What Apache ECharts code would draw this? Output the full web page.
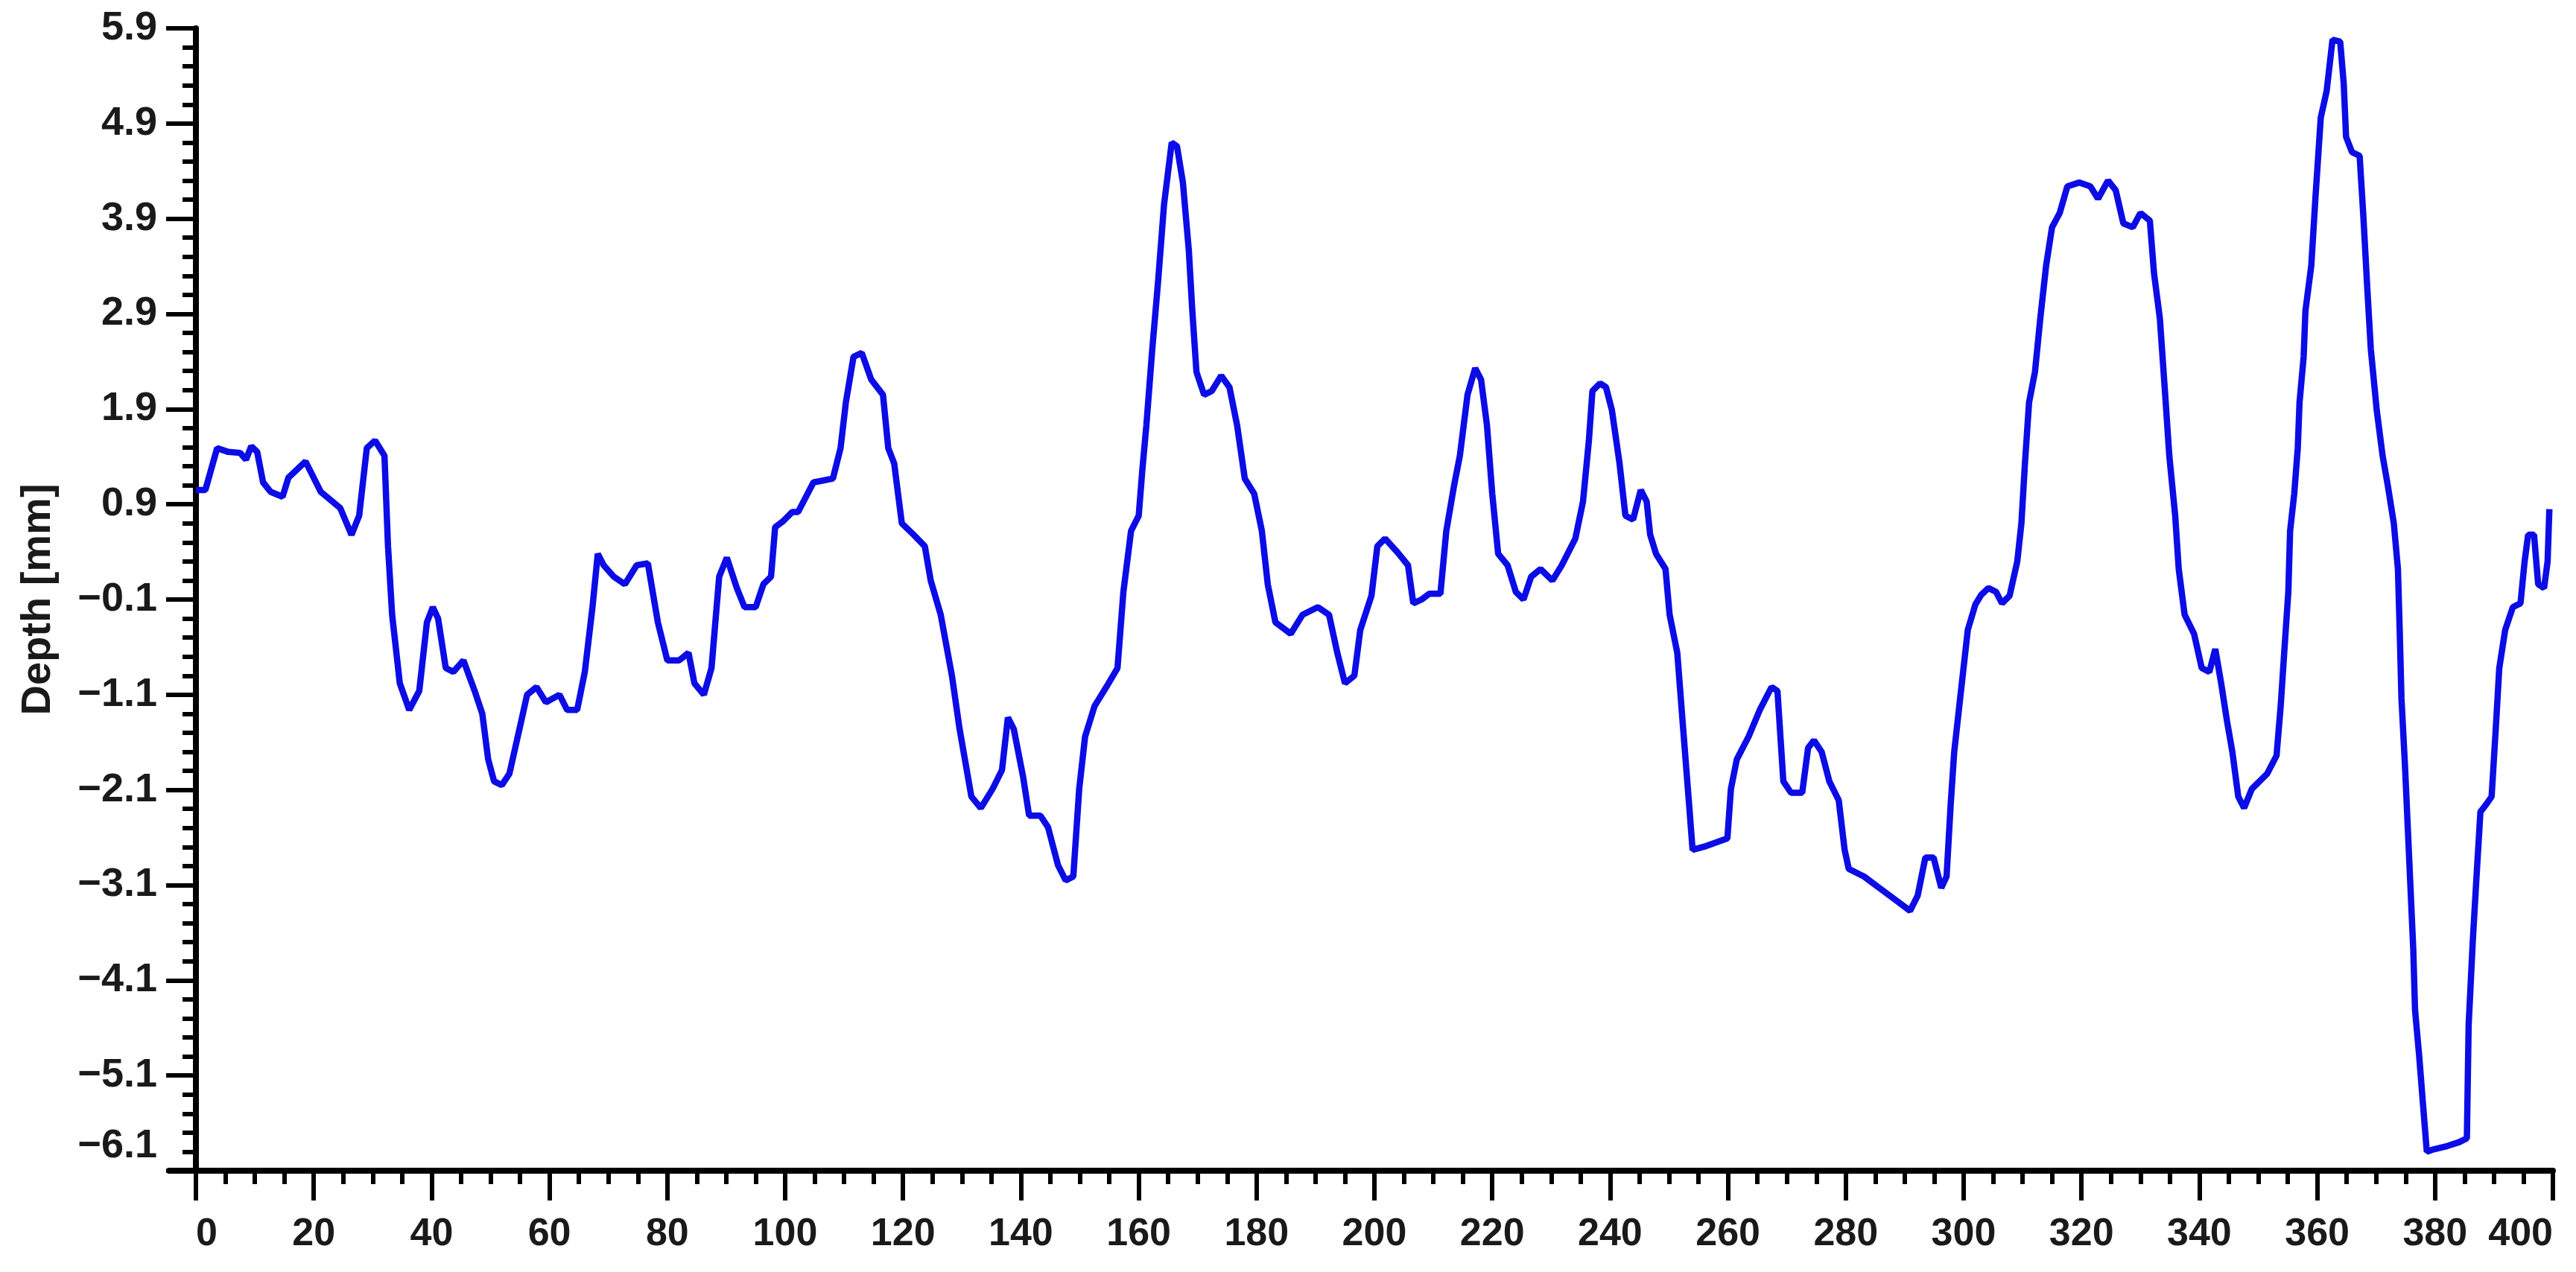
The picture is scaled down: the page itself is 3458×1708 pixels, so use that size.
<!DOCTYPE html>
<html><head><meta charset="utf-8">
<script src="https://cdn.jsdelivr.net/npm/echarts@6/dist/echarts.min.js"></script>
<style>html,body{margin:0;padding:0;background:#fff}#c{width:3458px;height:1708px}</style>
</head><body><div id="c"></div>
<script>
const xs = [
  0, 1.6, 3.6, 5.5, 7.5, 8.5, 9.4, 10.4, 11.4, 12.7, 14.7, 15.7, 18.6, 21.2, 24.5, 26.4, 27.7, 29.0, 30.4, 32.0,
  32.6, 33.3, 34.6, 36.2, 37.9, 39.2, 40.2, 41.1, 42.4, 43.7, 45.4, 47.3, 48.6, 49.6, 50.6, 51.9, 53.2, 55.2, 56.2, 57.8,
  59.4, 61.7, 63.0, 64.7, 66.0, 67.3, 68.2, 69.2, 70.9, 72.8, 74.8, 76.7, 78.4, 80.0, 82.0, 83.6, 84.6, 86.2, 87.5, 88.8,
  90.1, 91.8, 93.1, 95.0, 96.3, 97.6, 98.3, 99.6, 101.2, 102.2, 104.8, 108.1, 109.4, 110.3, 111.6, 113.0, 114.6, 116.6, 117.5, 118.5,
  119.8, 121.8, 123.7, 124.7, 126.4, 128.3, 129.6, 131.6, 133.2, 135.2, 136.8, 137.8, 138.8, 140.4, 141.4, 143.3, 144.6, 146.3, 147.6, 148.9,
  149.9, 150.9, 152.5, 154.5, 156.4, 157.4, 158.7, 160.0, 160.6, 161.3, 162.3, 163.3, 164.3, 165.6, 166.5, 167.5, 168.5, 169.1, 169.8, 171.1,
  172.4, 174.0, 175.4, 176.7, 178.0, 179.6, 180.9, 181.9, 183.2, 185.8, 187.8, 190.4, 192.3, 193.7, 195.0, 196.6, 197.6, 199.5, 200.5, 201.8,
  204.0, 205.7, 206.6, 208.0, 209.3, 211.2, 212.2, 213.5, 214.5, 215.8, 217.1, 218.1, 219.1, 220.0, 221.0, 222.6, 224.0, 225.3, 226.6, 228.2,
  230.2, 231.8, 234.1, 235.4, 236.4, 237.0, 238.3, 239.3, 240.3, 241.6, 242.6, 243.9, 245.2, 246.2, 246.8, 247.8, 249.4, 250.1, 251.4, 252.4,
  253.4, 254.0, 256.3, 259.9, 260.5, 261.5, 263.5, 265.4, 267.4, 268.4, 269.4, 270.7, 272.6, 273.6, 274.6, 275.9, 277.2, 278.8, 279.8, 280.5,
  283.1, 285.7, 288.3, 290.9, 292.2, 293.5, 294.9, 296.2, 297.1, 297.8, 298.4, 299.4, 300.7, 302.0, 303.0, 304.2, 305.5, 306.5, 307.8, 309.1,
  309.8, 310.4, 311.1, 312.1, 313.0, 314.0, 315.0, 316.3, 317.6, 319.6, 321.5, 322.8, 324.5, 325.8, 327.1, 328.7, 330.0, 331.6, 332.3, 333.3,
  334.2, 334.9, 335.9, 336.5, 337.5, 339.1, 340.4, 341.7, 342.7, 343.7, 344.7, 345.6, 346.6, 347.6, 348.9, 351.5, 353.1, 353.8, 354.4, 355.1,
  355.4, 356.1, 356.7, 357.0, 357.7, 358.0, 359.0, 359.7, 360.6, 361.6, 362.6, 363.9, 364.5, 364.9, 365.9, 367.2, 367.8, 368.5, 369.1, 370.1,
  371.1, 372.0, 373.0, 373.7, 374.0, 374.3, 374.9, 375.6, 376.3, 376.6, 377.3, 377.9, 378.6, 379.5, 382.1, 384.1, 385.4, 385.7, 386.4, 387.0,
  387.7, 388.7, 389.6, 390.3, 390.9, 391.9, 393.2, 394.5, 395.2, 395.8, 396.8, 397.5, 398.5, 399.1, 399.4
];
const depth = [
  1.05, 1.05, 1.49, 1.45, 1.44, 1.37, 1.51, 1.45, 1.13, 1.03, 0.98, 1.18, 1.35, 1.03, 0.86, 0.58, 0.78, 1.49, 1.57, 1.41,
  0.46, -0.26, -0.98, -1.26, -1.06, -0.34, -0.18, -0.30, -0.82, -0.86, -0.74, -1.06, -1.30, -1.78, -2.01, -2.05, -1.93, -1.38, -1.10, -1.02,
  -1.18, -1.10, -1.26, -1.26, -0.86, -0.18, 0.38, 0.26, 0.14, 0.06, 0.26, 0.28, -0.34, -0.74, -0.74, -0.66, -0.98, -1.10, -0.82, 0.14,
  0.34, 0.02, -0.18, -0.18, 0.06, 0.14, 0.66, 0.72, 0.82, 0.82, 1.13, 1.17, 1.49, 1.97, 2.45, 2.49, 2.21, 2.05, 1.49, 1.33,
  0.70, 0.58, 0.46, 0.10, -0.26, -0.90, -1.46, -2.17, -2.29, -2.09, -1.89, -1.34, -1.46, -1.97, -2.37, -2.37, -2.49, -2.89, -3.05, -3.01,
  -2.09, -1.54, -1.22, -1.02, -0.82, -0.02, 0.62, 0.78, 1.25, 1.73, 2.53, 3.25, 4.05, 4.70, 4.66, 4.28, 3.57, 2.93, 2.29, 2.05,
  2.09, 2.25, 2.13, 1.73, 1.17, 1.01, 0.62, 0.06, -0.34, -0.46, -0.26, -0.18, -0.26, -0.66, -0.98, -0.90, -0.42, -0.06, 0.46, 0.54,
  0.39, 0.26, -0.14, -0.10, -0.04, -0.04, 0.62, 1.09, 1.41, 2.05, 2.33, 2.21, 1.73, 1.01, 0.38, 0.26, -0.02, -0.10, 0.14, 0.22,
  0.10, 0.26, 0.54, 0.93, 1.57, 2.09, 2.17, 2.13, 1.89, 1.33, 0.78, 0.74, 1.05, 0.93, 0.58, 0.38, 0.22, -0.26, -0.66, -1.46,
  -2.25, -2.73, -2.69, -2.61, -2.09, -1.78, -1.54, -1.26, -1.02, -1.06, -2.01, -2.13, -2.13, -1.66, -1.58, -1.70, -2.01, -2.21, -2.73, -2.93,
  -3.01, -3.13, -3.25, -3.37, -3.21, -2.81, -2.81, -3.13, -3.01, -2.25, -1.70, -1.14, -0.42, -0.15, -0.05, 0.02, -0.02, -0.14, -0.06, 0.30,
  0.70, 1.33, 1.97, 2.29, 2.85, 3.41, 3.81, 3.96, 4.24, 4.28, 4.24, 4.11, 4.30, 4.20, 3.85, 3.81, 3.96, 3.88, 3.33, 2.85,
  2.05, 1.41, 0.78, 0.22, -0.26, -0.46, -0.82, -0.86, -0.62, -0.98, -1.38, -1.70, -2.17, -2.29, -2.09, -1.93, -1.74, -1.22, -0.66, -0.02,
  0.62, 1.01, 1.49, 1.97, 2.45, 2.93, 3.41, 4.12, 4.96, 5.24, 5.78, 5.76, 5.32, 4.76, 4.60, 4.56, 3.96, 3.17, 2.53, 1.89,
  1.41, 1.09, 0.70, 0.22, -0.42, -1.14, -1.85, -2.81, -3.77, -4.41, -4.89, -5.36, -5.90, -5.88, -5.84, -5.80, -5.76, -4.57, -3.69, -3.05,
  -2.33, -2.25, -2.17, -1.46, -0.82, -0.42, -0.18, -0.14, 0.30, 0.58, 0.58, 0.06, 0.02, 0.30, 0.85
];
// Axis ranges / tick steps
const yMin = -6.1, yMax = 5.9, yStep = 1;
const xMin = 0, xMax = 400, xStep = 20;
const yTitle = 'Depth [mm]';

const FONT = "'Liberation Sans', Arial, sans-serif";
const fmtY = v => {
  const s = Math.abs(v).toFixed(1);
  return (v < -1e-9 ? '\u2212' : '') + s;
};
const points = xs.map((x, i) => [x, depth[i]]);

const chart = echarts.init(document.getElementById('c'), null, {renderer: 'canvas'});
chart.setOption({
  animation: false,
  backgroundColor: '#ffffff',
  grid: {left: 263, right: 31, top: 38, bottom: 136, containLabel: false},
  xAxis: {
    type: 'value', min: xMin, max: xMax, interval: xStep,
    axisLine: {show: true, onZero: false, lineStyle: {color: '#000', width: 8}},
    axisTick: {show: true, length: 40, lineStyle: {color: '#000', width: 6}},
    minorTick: {show: true, splitNumber: 4, length: 18, lineStyle: {color: '#000', width: 6}},
    splitLine: {show: false},
    axisLabel: {
      margin: 60, color: '#1a1a1a', fontSize: 52, fontWeight: 'bold', fontFamily: FONT,
      alignMinLabel: 'left', alignMaxLabel: 'right'
    }
  },
  yAxis: {
    type: 'value', min: yMin, max: yMax, interval: yStep,
    name: yTitle, nameLocation: 'middle', nameGap: 183, nameRotate: 90,
    nameTextStyle: {color: '#1a1a1a', fontSize: 56, fontWeight: 'bold', fontFamily: FONT},
    axisLine: {show: true, onZero: false, lineStyle: {color: '#000', width: 8}},
    axisTick: {show: true, length: 40, lineStyle: {color: '#000', width: 6}},
    minorTick: {show: true, splitNumber: 5, length: 18, lineStyle: {color: '#000', width: 6}},
    splitLine: {show: false},
    axisLabel: {
      margin: 52, color: '#1a1a1a', fontSize: 54, fontWeight: 'bold', fontFamily: FONT,
      formatter: v => {
        const s = fmtY(v);
        return Math.abs(v - yMin) < 1e-6 ? '{low|' + s + '}' : s;
      },
      rich: {
        low: {padding: [0, 0, 66, 0], color: '#1a1a1a', fontSize: 54, fontWeight: 'bold', fontFamily: FONT}
      }
    }
  },
  graphic: [{
    type: 'line', silent: true, z: 5,
    shape: {x1: 225, y1: 1572, x2: 263, y2: 1572},
    style: {stroke: '#000', lineWidth: 8}
  }],
  series: [{
    type: 'line',
    data: points,
    showSymbol: false,
    smooth: false,
    lineStyle: {color: '#0c0ce6', width: 8.5},
    z: 3
  }]
});
</script>
</body></html>
